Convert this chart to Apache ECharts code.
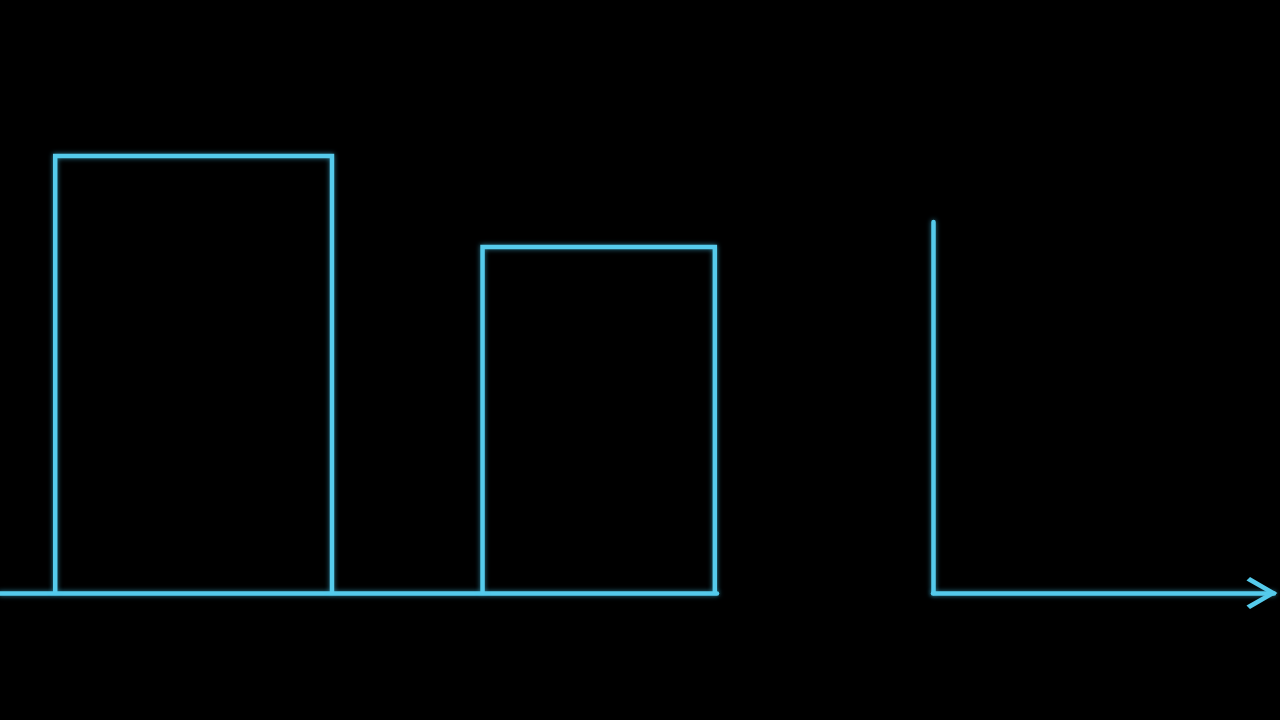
<!DOCTYPE html>
<html>
<head>
<meta charset="utf-8">
<script src="https://cdn.jsdelivr.net/npm/echarts@6/dist/echarts.min.js"></script>
<style>
html,body{margin:0;padding:0;background:#000;}
#c{width:1280px;height:720px;}
</style>
</head>
<body>
<div id="c"></div>
<script>
// Bars: left edge, right edge (x units 0..100), height (y units)
const barStarts = [7.7, 67.3];
const barEnds = [46.3, 99.7];
const barHeights = [100, 79.2];

const NEON = '#55cbec';
const GLOW = 'rgba(70,200,240,0.6)';
const LW = 4.5;

const barData = barStarts.map((s, i) => [s, barEnds[i], barHeights[i]]);

const chevron = 'path://M50 0 L100 86 L89 97 L50 28 L11 97 L0 86 Z';

const chart = echarts.init(document.getElementById('c'), null, {renderer: 'canvas'});
chart.setOption({
  backgroundColor: '#000',
  animation: false,
  grid: [
    {left: 0, width: 717, top: 25, bottom: 127},
    {left: 933, width: 341, top: 222, bottom: 127}
  ],
  xAxis: [
    {
      gridIndex: 0, type: 'value', min: 0, max: 100,
      axisLine: {show: true, onZero: false, lineStyle: {color: NEON, width: LW, shadowBlur: 5, shadowColor: GLOW}},
      axisTick: {show: false}, axisLabel: {show: false}, splitLine: {show: false}
    },
    {
      gridIndex: 1, type: 'value', min: 0, max: 1,
      axisLine: {
        show: true, onZero: false,
        symbol: ['none', chevron], symbolSize: [34, 31], symbolOffset: [0, -12],
        lineStyle: {color: NEON, width: LW, shadowBlur: 5, shadowColor: GLOW}
      },
      axisTick: {show: false}, axisLabel: {show: false}, splitLine: {show: false}
    }
  ],
  yAxis: [
    {
      gridIndex: 0, type: 'value', min: 0, max: 130,
      axisLine: {show: false}, axisTick: {show: false}, axisLabel: {show: false}, splitLine: {show: false}
    },
    {
      gridIndex: 1, type: 'value', min: 0, max: 1,
      axisLine: {show: true, onZero: false, lineStyle: {color: NEON, width: LW, shadowBlur: 5, shadowColor: GLOW}},
      axisTick: {show: false}, axisLabel: {show: false}, splitLine: {show: false}
    }
  ],
  series: [
    {
      type: 'custom',
      xAxisIndex: 0, yAxisIndex: 0,
      data: barData,
      silent: true,
      z: 5,
      renderItem: function (params, api) {
        const p0 = api.coord([api.value(0), 0]);
        const p1 = api.coord([api.value(1), api.value(2)]);
        return {
          type: 'polyline',
          shape: {points: [[p0[0], p0[1]], [p0[0], p1[1]], [p1[0], p1[1]], [p1[0], p0[1]]]},
          style: {fill: 'none', stroke: NEON, lineWidth: LW, lineJoin: 'miter', shadowBlur: 5, shadowColor: GLOW}
        };
      }
    }
  ]
});
</script>
</body>
</html>
